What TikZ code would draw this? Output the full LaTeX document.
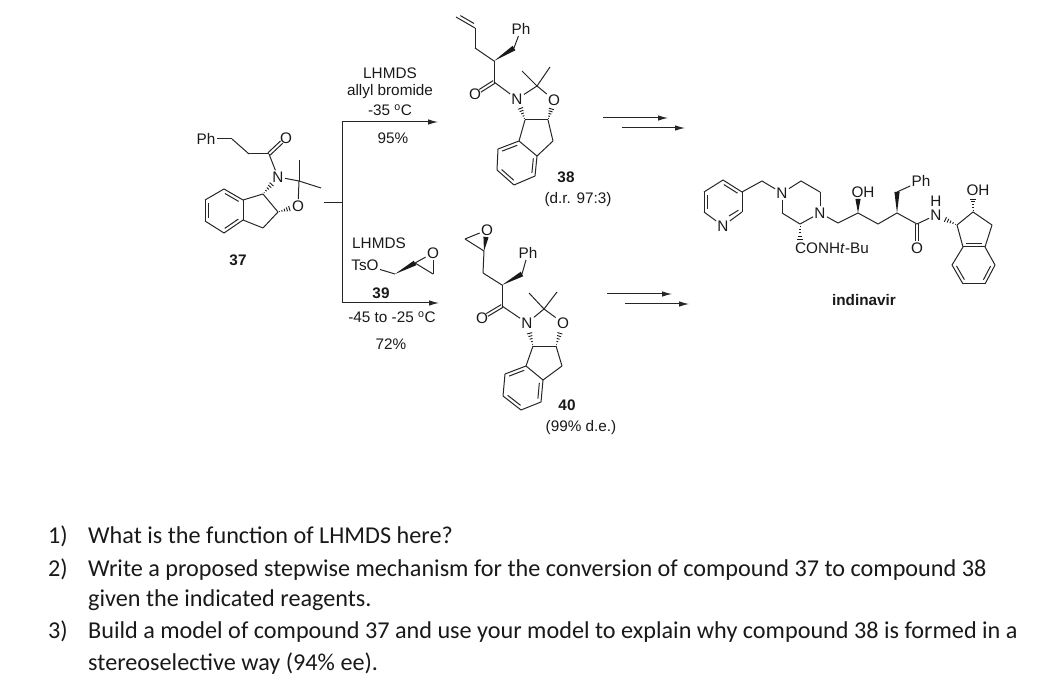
\documentclass[tikz,border=0pt]{standalone}
\usepackage{fontspec}
\setmainfont{Liberation Sans}
\newfontfamily\qfont{Carlito}
\usetikzlibrary{arrows.meta,calc,positioning}

\newcommand{\WedgeBond}[2]{\fill [black!90] (#1) -- ($(#2)!2.6pt!90:(#1)$) -- ($(#2)!2.6pt!-90:(#1)$) -- cycle;}
\newcommand{\HashBond}[3][1]{\foreach \f in {0.12,0.32,0.52,0.72,0.92} {\pgfmathsetmacro{\t}{\f*#1} \draw [line width=0.9pt, black!90] ($(#2)!\t!(#3)!\f*2.8pt!90:(#3)$) -- ($(#2)!\t!(#3)!\f*2.8pt!-90:(#3)$);}}
\newcommand{\InnerBond}[3]{\draw [line width=1pt, black!85] ($(#1)!0.14!(#2)!3.4pt!#3:(#2)$) -- ($(#1)!0.86!(#2)!3.4pt!#3:(#2)$);}

\begin{document}
\begin{tikzpicture}[x=1pt, y=-1pt]
	\tikzstyle{Atom}	= [inner sep=1.2pt, font=\fontsize{15.3}{17}\selectfont, text=black!90]
	\tikzstyle{Label}	= [inner sep=0pt, font=\fontsize{15.3}{17}\selectfont, text=black!90]
	\tikzstyle{Num}		= [inner sep=0pt, font=\fontsize{15.3}{17}\selectfont\bfseries, text=black!90]
	\tikzstyle{Quest}	= [inner sep=0pt, anchor=base west, font=\fontsize{24.2}{28}\qfont, text=black!90]
	\tikzstyle{Bond}	= [line width=1pt, black!85]
	\tikzstyle{Rxn}		= [line width=1pt, black!85, -{Latex[length=10pt,width=5.5pt]}]

	\useasboundingbox (0,0) rectangle (1046,700);

	% compound 37
	\node (p_ph) at (206,139) [Atom] {Ph};
	\node (p_o1) at (286,138) [Atom] {O};
	\node (p_n) at (278,177) [Atom] {N};
	\node (p_o2) at (298,206) [Atom] {O};
	\coordinate (p1) at (232,139);
	\coordinate (p2) at (249,154);
	\coordinate (p3) at (269,154);
	\coordinate (p4) at (299,181);
	\coordinate (p5) at (299,160);
	\coordinate (p6) at (321,188);
	\coordinate (p7) at (263,194);
	\coordinate (p8) at (278,212);
	\coordinate (p9) at (263,228);
	\coordinate (p10) at (243,200);
	\coordinate (p11) at (243,220);
	\coordinate (p12) at (224,189);
	\coordinate (p13) at (205,200);
	\coordinate (p14) at (205,221);
	\coordinate (p15) at (224,233);
	\draw [-] (p_ph) to (p1) [Bond];
	\draw [-] (p1) to (p2) [Bond];
	\draw [-] (p2) to (p3) [Bond];
	\draw [-] (p3) to (p_n) [Bond];
	\draw [-] ($(p3)!1.6pt!90:(p_o1)$) to ($(p_o1)!6pt!(p3)!1.6pt!-90:(p3)$) [Bond];
	\draw [-] ($(p3)!1.6pt!-90:(p_o1)$) to ($(p_o1)!6pt!(p3)!1.6pt!90:(p3)$) [Bond];
	\draw [-] (p_n) to (p4) [Bond];
	\draw [-] (p4) to (p_o2) [Bond];
	\draw [-] (p4) to (p5) [Bond];
	\draw [-] (p4) to (p6) [Bond];
	\draw [-] (p7) to (p10) [Bond];
	\draw [-] (p7) to (p8) [Bond];
	\draw [-] (p8) to (p9) [Bond];
	\draw [-] (p9) to (p11) [Bond];
	\draw [-] (p10) to (p11) [Bond];
	\draw [-] (p10) to (p12) [Bond];
	\draw [-] (p12) to (p13) [Bond];
	\draw [-] (p13) to (p14) [Bond];
	\draw [-] (p14) to (p15) [Bond];
	\draw [-] (p15) to (p11) [Bond];
	\InnerBond{p12}{p10}{-90}
	\InnerBond{p13}{p14}{90}
	\InnerBond{p15}{p11}{90}
	\HashBond[0.62]{p7}{p_n}
	\HashBond[0.62]{p8}{p_o2}
	\node (n37) at (238,260) [Num] {37};

	% conditions
	\coordinate (j1) at (324,203);
	\coordinate (j2) at (342,203);
	\coordinate (j3) at (342,122);
	\coordinate (j4) at (342,303);
	\coordinate (j5) at (438,122);
	\coordinate (j6) at (439,303);
	\draw [-] (j1) to (j2) [Bond];
	\draw [-] (j3) to (j4) [Bond];
	\draw (j3) to (j5) [Rxn];
	\draw (j4) to (j6) [Rxn];
	\node (t1) at (390,73) [Label] {LHMDS};
	\node (t2) at (390,92) [Label] {allyl bromide};
	\node (t3) at (390,110) [Label] {-35 \textsuperscript{o}C};
	\node (t4) at (393,138) [Label] {95\%};
	\node (t5) at (379,243) [Label] {LHMDS};
	\node (t6) at (381,293) [Num] {39};
	\node (t7) at (392,317) [Label] {-45 to -25 \textsuperscript{o}C};
	\node (t8) at (391,344) [Label] {72\%};

	% tosylate 39
	\node (ts_o) at (365,265) [Atom] {TsO};
	\node (ts_e) at (433,253) [Atom] {O};
	\coordinate (ts1) at (395,274);
	\coordinate (ts2) at (415,263);
	\coordinate (ts3) at (433,274);
	\draw [-] (ts_o) to (ts1) [Bond];
	\draw [-] (ts2) to (ts_e) [Bond];
	\draw [-] (ts_e) to (ts3) [Bond];
	\draw [-] (ts2) to (ts3) [Bond];
	\WedgeBond{ts1}{ts2}

	% compound 38
	\node (q_ph) at (521,29) [Atom] {Ph};
	\node (q_o1) at (475,94) [Atom] {O};
	\node (q_n) at (517,99) [Atom] {N};
	\node (q_o2) at (554,100) [Atom] {O};
	\coordinate (q1) at (456,17);
	\coordinate (q2) at (475,28);
	\coordinate (q3) at (475,48);
	\coordinate (q4) at (494,61);
	\coordinate (q5) at (514,48);
	\coordinate (q6) at (494,82);
	\coordinate (q7) at (537,86);
	\coordinate (q8) at (522,71);
	\coordinate (q9) at (550,67);
	\coordinate (q10) at (548,120);
	\coordinate (q11) at (525,120);
	\coordinate (q12) at (553,141);
	\coordinate (q13) at (537,156);
	\coordinate (q14) at (519,141);
	\coordinate (q15) at (498,149);
	\coordinate (q16) at (497,170);
	\coordinate (q17) at (514,185);
	\coordinate (q18) at (535,176);
	\draw [-] (q1) to (q2) [Bond];
	\InnerBond{q1}{q2}{90}
	\draw [-] (q2) to (q3) [Bond];
	\draw [-] (q3) to (q4) [Bond];
	\draw [-] (q5) to (q_ph) [Bond];
	\draw [-] (q4) to (q6) [Bond];
	\draw [-] (q6) to (q_n) [Bond];
	\draw [-] ($(q6)!1.6pt!90:(q_o1)$) to ($(q_o1)!6pt!(q6)!1.6pt!-90:(q6)$) [Bond];
	\draw [-] ($(q6)!1.6pt!-90:(q_o1)$) to ($(q_o1)!6pt!(q6)!1.6pt!90:(q6)$) [Bond];
	\draw [-] (q_n) to (q7) [Bond];
	\draw [-] (q7) to (q_o2) [Bond];
	\draw [-] (q7) to (q8) [Bond];
	\draw [-] (q7) to (q9) [Bond];
	\draw [-] (q10) to (q11) [Bond];
	\draw [-] (q10) to (q12) [Bond];
	\draw [-] (q12) to (q13) [Bond];
	\draw [-] (q11) to (q14) [Bond];
	\draw [-] (q14) to (q13) [Bond];
	\draw [-] (q14) to (q15) [Bond];
	\draw [-] (q15) to (q16) [Bond];
	\draw [-] (q16) to (q17) [Bond];
	\draw [-] (q17) to (q18) [Bond];
	\draw [-] (q18) to (q13) [Bond];
	\InnerBond{q14}{q15}{90}
	\InnerBond{q16}{q17}{90}
	\InnerBond{q18}{q13}{90}
	\WedgeBond{q4}{q5}
	\HashBond[0.6]{q11}{q_n}
	\HashBond[0.6]{q10}{q_o2}
	\node (n38) at (566,177) [Num] {38};
	\node (d38) at (578,200) [Label] {(d.r. 97:3)};
	\coordinate (a1) at (603,118);
	\coordinate (a2) at (668,118);
	\coordinate (a3) at (622,128);
	\coordinate (a4) at (685,128);
	\draw (a1) to (a2) [Rxn];
	\draw (a3) to (a4) [Rxn];

	% compound 40
	\node (r_e) at (487,230) [Atom] {O};
	\node (r_ph) at (528,253) [Atom] {Ph};
	\node (r_o1) at (482,318) [Atom] {O};
	\node (r_n) at (527,323) [Atom] {N};
	\node (r_o2) at (563,323) [Atom] {O};
	\coordinate (r1) at (465,239);
	\coordinate (r2) at (484,251);
	\coordinate (r3) at (483,273);
	\coordinate (r4) at (502,285);
	\coordinate (r5) at (522,274);
	\coordinate (r6) at (502,306);
	\coordinate (r7) at (544,309);
	\coordinate (r8) at (529,293);
	\coordinate (r9) at (557,292);
	\coordinate (r10) at (556,346);
	\coordinate (r11) at (533,346);
	\coordinate (r12) at (562,366);
	\coordinate (r13) at (543,380);
	\coordinate (r14) at (526,366);
	\coordinate (r15) at (505,374);
	\coordinate (r16) at (503,396);
	\coordinate (r17) at (521,410);
	\coordinate (r18) at (541,402);
	\coordinate (r_w) at (486,237);
	\draw [-] (r_e) to (r1) [Bond];
	\draw [-] (r1) to (r2) [Bond];
	\draw [-] (r2) to (r3) [Bond];
	\draw [-] (r3) to (r4) [Bond];
	\draw [-] (r5) to (r_ph) [Bond];
	\draw [-] (r4) to (r6) [Bond];
	\draw [-] (r6) to (r_n) [Bond];
	\draw [-] ($(r6)!1.6pt!90:(r_o1)$) to ($(r_o1)!6pt!(r6)!1.6pt!-90:(r6)$) [Bond];
	\draw [-] ($(r6)!1.6pt!-90:(r_o1)$) to ($(r_o1)!6pt!(r6)!1.6pt!90:(r6)$) [Bond];
	\draw [-] (r_n) to (r7) [Bond];
	\draw [-] (r7) to (r_o2) [Bond];
	\draw [-] (r7) to (r8) [Bond];
	\draw [-] (r7) to (r9) [Bond];
	\draw [-] (r10) to (r11) [Bond];
	\draw [-] (r10) to (r12) [Bond];
	\draw [-] (r12) to (r13) [Bond];
	\draw [-] (r11) to (r14) [Bond];
	\draw [-] (r14) to (r13) [Bond];
	\draw [-] (r14) to (r15) [Bond];
	\draw [-] (r15) to (r16) [Bond];
	\draw [-] (r16) to (r17) [Bond];
	\draw [-] (r17) to (r18) [Bond];
	\draw [-] (r18) to (r13) [Bond];
	\InnerBond{r14}{r15}{90}
	\InnerBond{r16}{r17}{90}
	\InnerBond{r18}{r13}{90}
	\WedgeBond{r2}{r_w}
	\WedgeBond{r4}{r5}
	\HashBond[0.6]{r11}{r_n}
	\HashBond[0.6]{r10}{r_o2}
	\node (n40) at (567,405) [Num] {40};
	\node (d40) at (581,428) [Label] {(99\% d.e.)};
	\coordinate (a5) at (607,294);
	\coordinate (a6) at (672,294);
	\coordinate (a7) at (625,304);
	\coordinate (a8) at (689,304);
	\draw (a5) to (a6) [Rxn];
	\draw (a7) to (a8) [Rxn];

	% indinavir
	\node (s_py) at (723,226) [Atom] {N};
	\node (s_n1) at (782,193) [Atom] {N};
	\node (s_n2) at (820,213) [Atom] {N};
	\node (s_oh1) at (863,192) [Atom] {OH};
	\node (s_ph) at (921,181) [Atom] {Ph};
	\node (s_o) at (917,248) [Atom] {O};
	\node (s_n3) at (936,215) [Atom] {N};
	\node (s_h) at (936,201) [Atom] {H};
	\node (s_oh2) at (978,190) [Atom] {OH};
	\node (s_co) at (832,248) [Atom] {CONH\textit{t}-Bu};
	\coordinate (s1) at (704,212);
	\coordinate (s2) at (704,192);
	\coordinate (s3) at (723,180);
	\coordinate (s4) at (742,192);
	\coordinate (s5) at (742,212);
	\coordinate (s5b) at (729,220);
	\coordinate (s6) at (762,181);
	\coordinate (s7) at (782,213);
	\coordinate (s8) at (800,224);
	\coordinate (s9) at (820,192);
	\coordinate (s10) at (801,181);
	\coordinate (s11) at (800,241);
	\coordinate (s12) at (838,223);
	\coordinate (s13) at (858,213);
	\coordinate (s14) at (858,199);
	\coordinate (s15) at (878,224);
	\coordinate (s16) at (897,213);
	\coordinate (s17) at (897,192);
	\coordinate (s18) at (917,224);
	\coordinate (s19) at (957,225);
	\coordinate (s20) at (973,212);
	\coordinate (s21) at (973,198);
	\coordinate (s22) at (992,225);
	\coordinate (s23) at (985,247);
	\coordinate (s24) at (963,247);
	\coordinate (s25) at (952,265);
	\coordinate (s26) at (963,284);
	\coordinate (s27) at (985,284);
	\coordinate (s28) at (995,265);
	\draw [-] (s_py) to (s1) [Bond];
	\draw [-] (s1) to (s2) [Bond];
	\draw [-] (s2) to (s3) [Bond];
	\draw [-] (s3) to (s4) [Bond];
	\draw [-] (s4) to (s5) [Bond];
	\draw [-] (s5) to (s_py) [Bond];
	\InnerBond{s1}{s2}{-90}
	\InnerBond{s3}{s4}{-90}
	\InnerBond{s5}{s5b}{-90}
	\draw [-] (s4) to (s6) [Bond];
	\draw [-] (s6) to (s_n1) [Bond];
	\draw [-] (s_n1) to (s7) [Bond];
	\draw [-] (s7) to (s8) [Bond];
	\draw [-] (s8) to (s_n2) [Bond];
	\draw [-] (s_n2) to (s9) [Bond];
	\draw [-] (s9) to (s10) [Bond];
	\draw [-] (s10) to (s_n1) [Bond];
	\draw [-] (s_n2) to (s12) [Bond];
	\draw [-] (s12) to (s13) [Bond];
	\draw [-] (s13) to (s15) [Bond];
	\draw [-] (s15) to (s16) [Bond];
	\draw [-] (s16) to (s18) [Bond];
	\draw [-] (s17) to (s_ph) [Bond];
	\draw [-] (s18) to (s_n3) [Bond];
	\draw [-] ($(s18)+(-1.6,0)$) to ($(s_o.north)+(-1.6,0)$) [Bond];
	\draw [-] ($(s18)+(1.6,0)$) to ($(s_o.north)+(1.6,0)$) [Bond];
	\draw [-] (s19) to (s20) [Bond];
	\draw [-] (s20) to (s22) [Bond];
	\draw [-] (s22) to (s23) [Bond];
	\draw [-] (s23) to (s24) [Bond];
	\draw [-] (s24) to (s19) [Bond];
	\draw [-] (s24) to (s25) [Bond];
	\draw [-] (s25) to (s26) [Bond];
	\draw [-] (s26) to (s27) [Bond];
	\draw [-] (s27) to (s28) [Bond];
	\draw [-] (s28) to (s23) [Bond];
	\InnerBond{s24}{s23}{90}
	\InnerBond{s25}{s26}{90}
	\InnerBond{s27}{s28}{90}
	\WedgeBond{s13}{s14}
	\WedgeBond{s16}{s17}
	\HashBond{s8}{s11}
	\HashBond[0.6]{s19}{s_n3}
	\HashBond{s20}{s21}
	\node (n_ind) at (864,300) [Num] {indinavir};

	% questions
	\node (o1) at (48,543) [Quest] {1)};
	\node (q1t) at (88,543) [Quest] {What is the function of LHMDS here?};
	\node (o2) at (48,576) [Quest] {2)};
	\node (q2t) at (88,576) [Quest] {Write a proposed stepwise mechanism for the conversion of compound 37 to compound 38};
	\node (q2u) at (88,606) [Quest] {given the indicated reagents.};
	\node (o3) at (48,638) [Quest] {3)};
	\node (q3t) at (88,638) [Quest] {Build a model of compound 37 and use your model to explain why compound 38 is formed in a};
	\node (q3u) at (88,670) [Quest] {stereoselective way (94\% ee).};
\end{tikzpicture}
\end{document}
